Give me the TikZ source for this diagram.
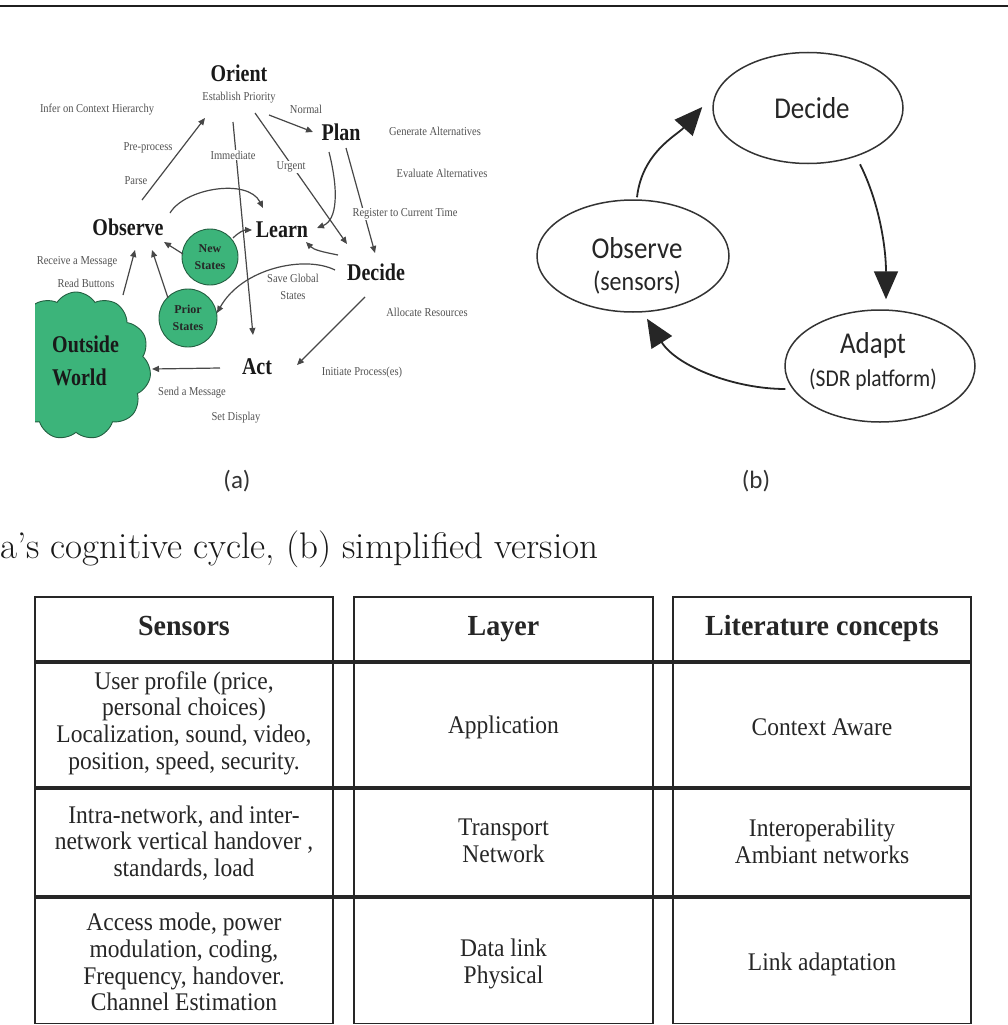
\documentclass[tikz,border=0pt]{standalone}
\usepackage{fontspec}
\usetikzlibrary{arrows.meta,shapes.geometric,shapes.symbols,calc}
\newfontfamily\tms{Liberation Serif}
\newfontfamily\clb{Carlito}
\definecolor{grn}{RGB}{60,180,122}
\definecolor{dgrn}{RGB}{35,95,65}
\begin{document}
\begin{tikzpicture}[x=1pt,y=-1pt,
  big/.style={font=\tms\bfseries\fontsize{20}{24}\selectfont, text=black!90, inner sep=0pt, yscale=1.2},
  sml/.style={font=\tms\fontsize{10.5}{12}\selectfont, text=black!68, inner sep=0.6pt, yscale=1.15},
  gap/.style={fill=white},
  st/.style={circle, fill=grn, draw=dgrn, line width=0.9pt, minimum size=56pt, inner sep=0pt, align=center, font=\tms\bfseries\fontsize{12}{17}\selectfont, text=black!85},
  ar/.style={draw=black!72, line width=1.2pt, -{Triangle[length=7pt,width=6pt]}},
  ell/.style={ellipse, draw=black!80, line width=1.5pt, minimum width=190pt, minimum height=111pt, inner sep=0pt},
  btx/.style={font=\clb\fontsize{27}{30}\selectfont, text=black!85, inner sep=0pt, yscale=1.12},
  bsub/.style={font=\clb\fontsize{24}{26}\selectfont, text=black!85, inner sep=0pt, yscale=1.12},
  bar/.style={draw=black!85, line width=1.8pt, -{Triangle[length=28pt,width=24pt]}},
  hdr/.style={font=\tms\bfseries\fontsize{28}{32}\selectfont, inner sep=0pt, text=black!85, anchor=base, yscale=1.04},
  cell/.style={font=\tms\fontsize{23.5}{24.7}\selectfont, align=center, inner sep=0pt, text=black!85, yscale=1.08},
  tbox/.style={draw=black!85, line width=1.6pt},
  tsep/.style={draw=black!85, line width=4.5pt},
  sub/.style={font=\clb\fontsize{25}{28}\selectfont, text=black!80, inner sep=0pt},
]
\useasboundingbox (0,0) rectangle (1008,1025);

% top rule
\draw[line width=2.6pt, black!88] (0,6) -- (1008,6);

% ---------------- (a) ----------------
\begin{scope}
\clip (35,280) rectangle (220,445);
\node[cloud, cloud puffs=11, cloud puff arc=115, aspect=1, minimum width=150pt, minimum height=148pt, fill=grn, draw=dgrn, line width=0.9pt] (cloud) at (76,366) {};
\end{scope}
\node[big, align=left, anchor=west, font=\tms\bfseries\fontsize{20}{27.5}\selectfont] (ow) at (52,361) {Outside\\World};

\node[st] (news) at (210,257) {New\\States};
\node[st, minimum size=58pt] (prior) at (188,318) {Prior\\States};

\node[big] (orient) at (239,73) {Orient};
\node[big] (plan) at (341,132) {Plan};
\node[big] (obs) at (128,227) {Observe};
\node[big] (learn) at (282,230) {Learn};
\node[big] (decide) at (376,272) {Decide};
\node[big] (act) at (257,367) {Act};

\node[sml] (infer) at (97,110) {Infer on Context Hierarchy};
\node[sml] (estab) at (239,98) {Establish Priority};
\node[sml] (prep) at (148,148) {Pre-process};
\node[sml] (parse) at (136,181) {Parse};
\node[sml] (normal) at (306,109) {Normal};
\node[sml] (genalt) at (435,131) {Generate Alternatives};
\node[sml] (evalt) at (442,173) {Evaluate Alternatives};
\node[sml, align=center, font=\tms\fontsize{10.5}{15}\selectfont] (saveg) at (293,287) {Save Global\\States};
\node[sml] (alloc) at (427,312) {Allocate Resources};
\node[sml] (initp) at (362,373) {Initiate Process(es)};
\node[sml] (setd) at (236,418) {Set Display};
\node[sml] (senda) at (192,393) {Send a Message};
\node[sml] (recv) at (77,262) {Receive a Message};
\node[sml] (readb) at (86,283) {Read Buttons};

\draw[ar] ([shift={(14,-27)}]obs.center) -- ([shift={(-34,20)}]estab.center);
\draw[ar] ([shift={(-6,24)}]estab.center) -- ([shift={(-4,-32)}]act.center);
\draw[ar] ([shift={(30,17)}]estab.center) -- ([shift={(-28,0)}]plan.center);
\draw[ar] ([shift={(16,15)}]estab.center) -- ([shift={(-29,-28)}]decide.center);
\draw[ar] ([shift={(-12,20)}]plan.center) .. controls +(10,40) and +(20,-8) .. ([shift={(35,-2)}]learn.center);
\draw[ar] ([shift={(5,16)}]plan.center) -- ([shift={(-1,-19)}]decide.center);
\draw[ar] ([shift={(-38,-17)}]decide.center) .. controls +(-15,-3) and +(8,8) .. ([shift={(24,12)}]learn.center);
\draw[ar] ([shift={(-41,-2)}]decide.center) .. controls +(-30,-15) and +(25,-45) .. ([shift={(29,-5)}]prior.center);
\draw[ar] ([shift={(-11,25)}]decide.center) -- ([shift={(40,-2)}]act.center);
\draw[ar] ([shift={(-37,1)}]act.center) -- ([shift={(76,3)}]cloud.center);
\draw[ar] ([shift={(47,-71)}]cloud.center) -- ([shift={(7,23)}]obs.center);
\draw[ar] ([shift={(-20,-20)}]prior.center) -- ([shift={(24,23)}]obs.center);
\draw[ar] ([shift={(-27,-3)}]news.center) -- ([shift={(36,15)}]obs.center);
\draw[ar] ([shift={(23,-19)}]news.center) .. controls +(6,-6) and +(-8,0) .. ([shift={(-30,0)}]learn.center);
\draw[ar] ([shift={(42,-14)}]obs.center) .. controls +(15,-25) and +(-15,-30) .. ([shift={(-19,-22)}]learn.center);

\node[sml,gap] (immed) at (233,155) {Immediate};
\node[sml,gap] (urgent) at (291,167) {Urgent};
\node[sml,gap] (regct) at (405,214) {Register to Current Time};

\node[sub] (la) at (237,481) {(a)};

% ---------------- (b) ----------------
\node[ell] (bdec) at (808,108) {};
\node[ell, minimum width=192pt, minimum height=112pt] (bobs) at (633,256) {};
\node[ell, minimum height=112pt] (badp) at (880,366) {};
\node[btx] (tdec) at (812,108) {Decide};
\node[btx] (tobs) at (637,248) {Observe};
\node[bsub] (tsen) at (637,283) {(sensors)};
\node[btx] (tadp) at (873,345) {Adapt};
\node[bsub, font=\clb\fontsize{21.5}{24}\selectfont] (tsdr) at (873,380) {(SDR platform)};

\draw[bar] ([shift={(4,-2)}]bobs.north) .. controls +(5,-45) and +(-25,28) .. ([shift={(-10,-1)}]bdec.west);
\draw[bar] ([shift={(52,0)}]bdec.south) .. controls +(20,40) and +(0,-50) .. ([shift={(6,-10)}]badp.north);
\draw[bar] ([shift={(1,23)}]badp.west) .. controls +(-50,0) and +(30,48) .. ([shift={(14,6)}]bobs.south);

\node[sub] (lb) at (756,481) {(b)};

% ---------------- caption ----------------
\node[anchor=base west, inner sep=0pt, font=\fontsize{37}{40}\selectfont, text=black!90] (cap) at (0,558) {a's cognitive cycle, (b) simplified version};

% ---------------- table ----------------
\foreach \a/\b in {35/333,354/653,673/971}
  \draw[tbox] (\a,597) rectangle (\b,1023.5);
\foreach \yy in {662,788,897}
  \draw[tsep] (35,\yy) -- (971,\yy);

\node[hdr] (hs) at (184,635) {Sensors};
\node[hdr] (hl) at (503.5,635) {Layer};
\node[hdr] (hc) at (822,635) {Literature concepts};

\node[cell] (c11) at (184,723) {User profile (price,\\personal choices)\\Localization, sound, video,\\position, speed, security.};
\node[cell] (c12) at (503.5,727) {Application};
\node[cell] (c13) at (822,727) {Context Aware};
\node[cell] (c21) at (184,843) {Intra-network, and inter-\\network vertical handover ,\\standards, load};
\node[cell] (c22) at (503.5,841) {Transport\\Network};
\node[cell] (c23) at (822,841) {Interoperability\\Ambiant networks};
\node[cell] (c31) at (184,962) {Access mode, power\\modulation, coding,\\Frequency, handover.\\Channel Estimation};
\node[cell] (c32) at (503.5,964) {Data link\\Physical};
\node[cell] (c33) at (822,964) {Link adaptation};
\end{tikzpicture}
\end{document}
